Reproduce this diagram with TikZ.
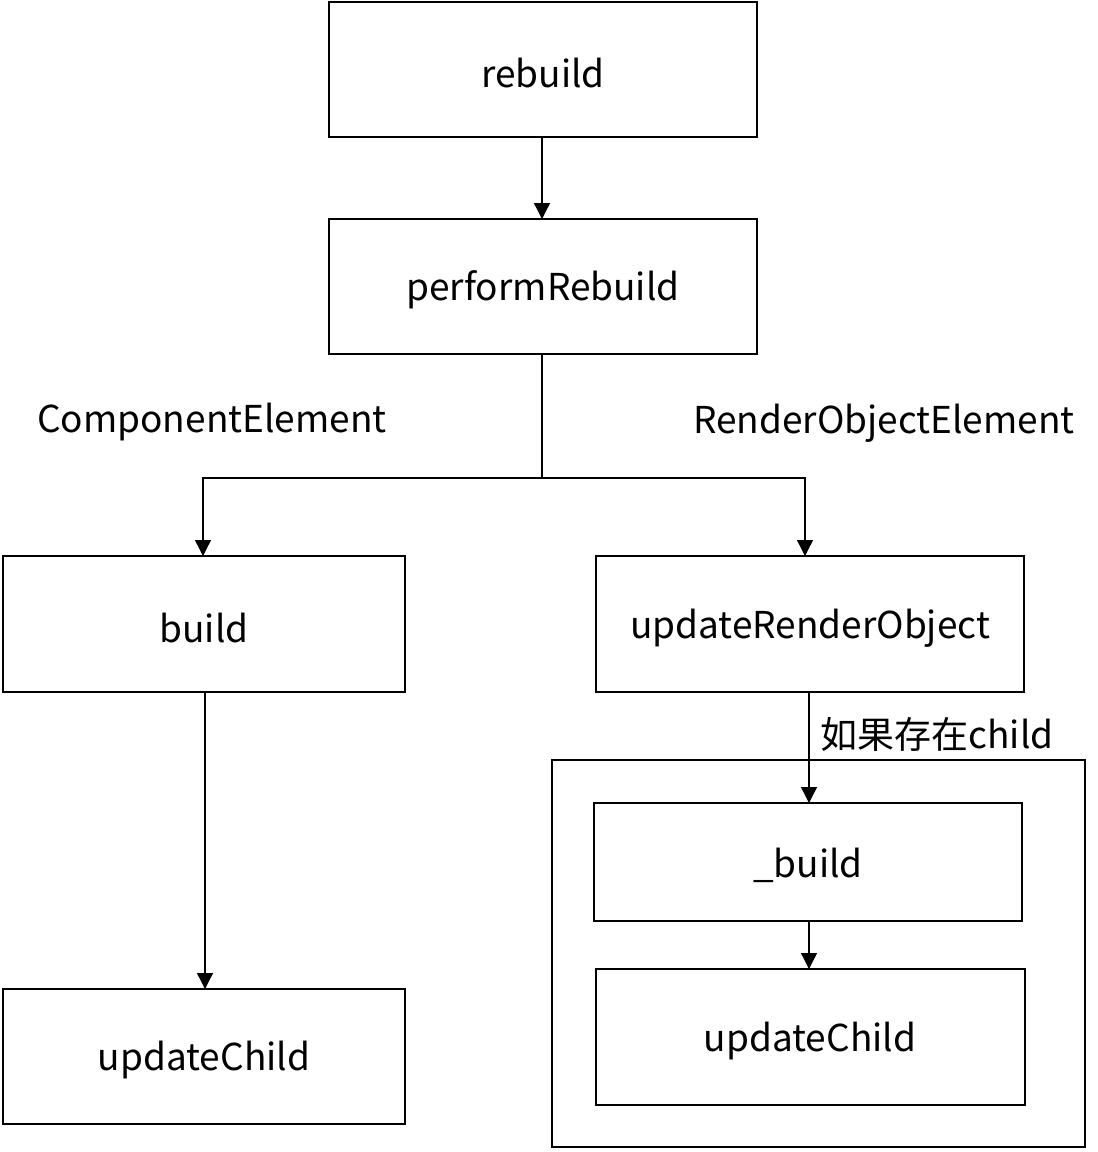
\documentclass[tikz,border=0pt]{standalone}
\usepackage{fontspec}
\setmainfont{Noto Sans CJK SC}
\usetikzlibrary{arrows.meta}
\begin{document}
\begin{tikzpicture}[x=1pt,y=-1pt,
  box/.style={draw,line width=1.3pt,inner sep=0pt},
  lbl/.style={font=\fontsize{37}{44}\selectfont},
  arr/.style={line width=1.3pt,-{Triangle[length=16pt,width=16pt]}},
  ln/.style={line width=1.3pt}]
\useasboundingbox (0,0) rectangle (1098,1152);
\draw[box] (329,2) rectangle (757,137);
\node[lbl] (rebuild) at (543,73) {rebuild};
\coordinate (rb) at (542,137);
\draw[box] (329,219) rectangle (757,354);
\node[lbl] (perf) at (543,290) {performRebuild};
\coordinate (pt) at (542,219);
\coordinate (pb) at (542,354);
\coordinate (pj) at (542,478);
\draw[box] (3,556) rectangle (405,692);
\node[lbl] (build) at (204,628) {build};
\draw[box] (596,556) rectangle (1024,692);
\node[lbl] (uro) at (810,628) {updateRenderObject};
\draw[box] (3,989) rectangle (405,1124);
\node[lbl] (uc1) at (204,1060) {updateChild};
\draw[box] (552,760) rectangle (1085,1147);
\draw[box] (594,803) rectangle (1022,921);
\node[lbl] (bld) at (808,865) {\_build};
\draw[box] (596,969) rectangle (1025,1105);
\node[lbl] (uc2) at (810,1041) {updateChild};
\node[lbl] (ce) at (212,422) {ComponentElement};
\node[lbl] (roe) at (884,423) {RenderObjectElement};
\node[lbl] (cond) at (937,734) {如果存在child};
\draw[arr] (rb) -- (pt);
\draw[ln] (pb) -- (pj);
\draw[arr] (pj) -| (203,556);
\draw[arr] (pj) -| (805,556);
\draw[arr] (205,692) -- (205,989);
\draw[arr] (809,692) -- (809,803);
\draw[arr] (809,921) -- (809,969);
\end{tikzpicture}
\end{document}
